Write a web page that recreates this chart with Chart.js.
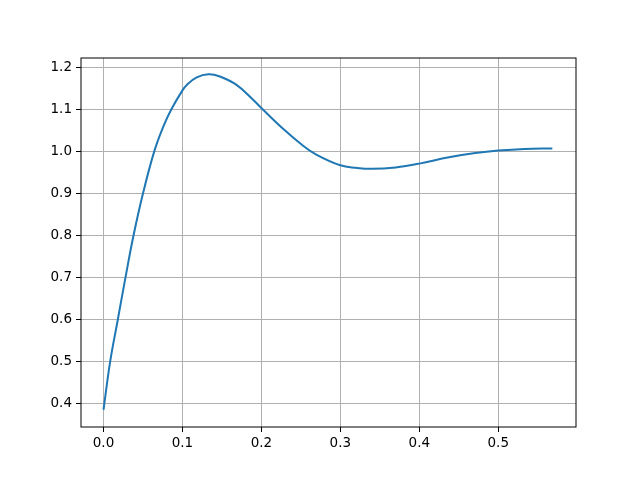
<!DOCTYPE html>
<html>
<head>
<meta charset="utf-8">
<script src="https://cdn.jsdelivr.net/npm/chart.js@4/dist/chart.umd.min.js"></script>
<style>
  html, body { margin: 0; padding: 0; background: #fff; }
</style>
</head>
<body>
<canvas id="grafico" width="640" height="480"></canvas>
<script>
// values
var tempo = [0.000, 0.0084, 0.0181, 0.0278, 0.038, 0.050, 0.0643, 0.076, 0.086, 0.100,
             0.1055, 0.118, 0.133, 0.1475, 0.1685, 0.1895, 0.200, 0.2278, 0.2532, 0.270,
             0.300, 0.320, 0.3405, 0.370, 0.400, 0.4375, 0.471, 0.500, 0.533, 0.5685];
var resposta = [0.386, 0.500, 0.600, 0.700, 0.800, 0.900, 1.000, 1.060, 1.100, 1.145,
                1.158, 1.176, 1.1835, 1.178, 1.158, 1.123, 1.103, 1.053, 1.013, 0.992,
                0.967, 0.961, 0.9585, 0.962, 0.971, 0.986, 0.996, 1.002, 1.006, 1.007];
var ticksX = [0.0, 0.1, 0.2, 0.3, 0.4, 0.5];
var ticksY = [0.4, 0.5, 0.6, 0.7, 0.8, 0.9, 1.0, 1.1, 1.2];

var pontos = tempo.map(function (t, i) { return { x: t, y: resposta[i] }; });

var moldura = {
    id: 'moldura',
    afterDraw: function (chart) {
        var a = chart.chartArea, ctx = chart.ctx;
        ctx.save();
        ctx.strokeStyle = '#000';
        ctx.lineWidth = 1;
        ctx.strokeRect(a.left, a.top, a.right - a.left, a.bottom - a.top);
        ctx.restore();
    }
};

var fonte = { family: 'DejaVu Sans', size: 13.5 };

new Chart(document.getElementById('grafico'), {
    type: 'line',
    data: {
        datasets: [{
            data: pontos,
            borderColor: '#1f77b4',
            borderWidth: 2,
            pointRadius: 0,
            fill: false,
            tension: 0.4
        }]
    },
    options: {
        responsive: false,
        animation: false,
        devicePixelRatio: 1,
        layout: { padding: { top: 58, right: 64, left: 0, bottom: 0 } },
        plugins: { legend: { display: false }, tooltip: { enabled: false } },
        scales: {
            x: {
                type: 'linear',
                min: -0.0285,
                max: 0.5985,
                afterBuildTicks: function (s) { s.ticks = ticksX.map(function (v) { return { value: v }; }); },
                afterFit: function (s) { s.height = 53; },
                ticks: { color: '#000', font: fonte, padding: 3, callback: function (v) { return v.toFixed(1); } },
                grid: { color: '#b0b0b0', lineWidth: 1, tickColor: '#000', tickLength: 5 },
                border: { display: false }
            },
            y: {
                min: 0.345,
                max: 1.222,
                afterBuildTicks: function (s) { s.ticks = ticksY.map(function (v) { return { value: v }; }); },
                afterFit: function (s) { s.width = 81; },
                ticks: { color: '#000', font: fonte, padding: 4, callback: function (v) { return v.toFixed(1); } },
                grid: { color: '#b0b0b0', lineWidth: 1, tickColor: '#000', tickLength: 5 },
                border: { display: false }
            }
        }
    },
    plugins: [moldura]
});
</script>
</body>
</html>
